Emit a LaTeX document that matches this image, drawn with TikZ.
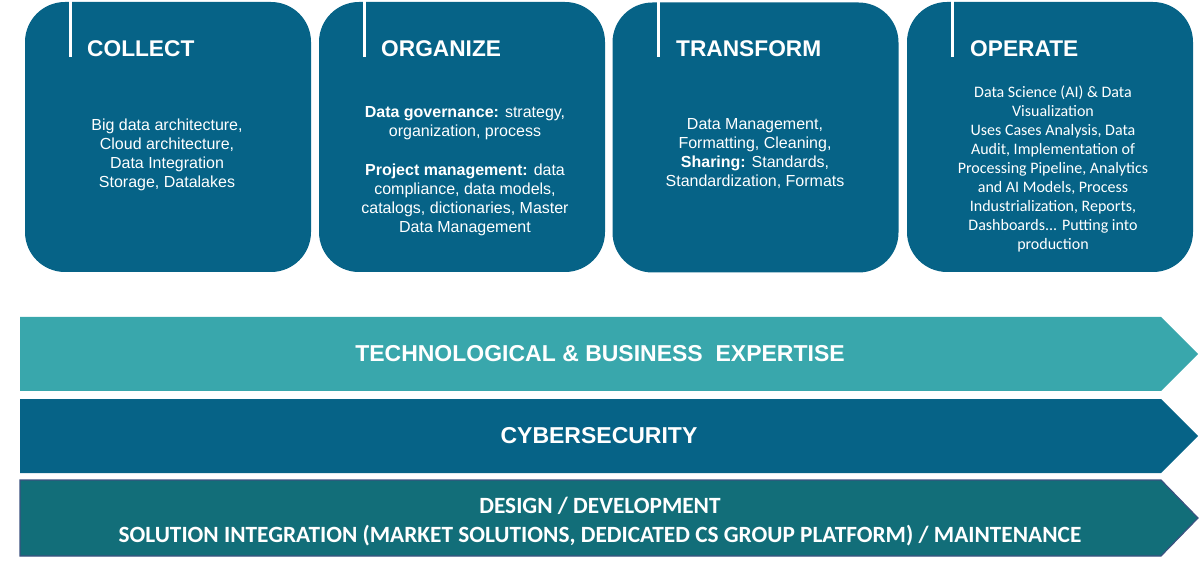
\documentclass[tikz,border=0pt]{standalone}
\usepackage{fontspec}
\setmainfont{Liberation Sans}
\newfontfamily\calfont{Carlito}
\usetikzlibrary{positioning}

\definecolor{phaseblue}{RGB}{6,99,135}
\definecolor{expertteal}{RGB}{57,167,172}
\definecolor{designteal}{RGB}{18,110,121}
\definecolor{designedge}{RGB}{58,82,128}

\begin{document}
\begin{tikzpicture}[x=1pt,y=-1pt,
  phase/.style={fill=phaseblue, rounded corners=40pt, inner sep=0pt,
    minimum width=286pt, minimum height=270pt},
  phasetitle/.style={text=white, anchor=base west, inner sep=0pt,
    font=\fontsize{22.7}{27}\selectfont\bfseries},
  phasetext/.style={text=white, align=center, inner sep=0pt,
    font=\fontsize{16}{19}\selectfont},
  bandtext/.style={text=white, align=center, inner sep=0pt}]
\useasboundingbox (0,0) rectangle (1200,561);

\def\ytop{0}
\def\ytick{57}

\node[phase] (collect) at (168,137) {};
\node[phase] (organize) at (462,137) {};
\node[phase] (transform) at (755.5,137.5) {};
\node[phase] (operate) at (1050,137) {};

\foreach \x in {70,364,658,952}
  \draw[white, line width=3pt] (\x,\ytop) -- (\x,\ytick);

\node[phasetitle] (collecttitle) at (87,\ytick) {COLLECT};
\node[phasetitle] (organizetitle) at (381,\ytick) {ORGANIZE};
\node[phasetitle] (transformtitle) at (676,\ytick) {TRANSFORM};
\node[phasetitle] (operatetitle) at (970,\ytick) {OPERATE};

\node[phasetext] (collecttext) at (167,155)
  {Big data architecture,\\Cloud architecture,\\Data Integration\\Storage, Datalakes};
\node[phasetext] (organizetext) at (465,171)
  {\textbf{Data governance:} strategy,\\organization, process\\[20pt]
   \textbf{Project management:} data\\compliance, data models,\\
   catalogs, dictionaries, Master\\Data Management};
\node[phasetext] (transformtext) at (755,154)
  {Data Management,\\Formatting, Cleaning,\\\textbf{Sharing:} Standards,\\
   Standardization, Formats};
\node[phasetext, font=\calfont\fontsize{16}{19.1}\selectfont] (operatetext) at (1053,169)
  {Data Science (AI) \& Data\\Visualization\\Uses Cases Analysis, Data\\
   Audit, Implementation of\\Processing Pipeline, Analytics\\and AI Models, Process\\
   Industrialization, Reports,\\Dashboards... Putting into\\production};

\fill[expertteal] (20,317) -- (1161,317) -- (1198,354) -- (1161,391) -- (20,391) -- cycle;
\fill[phaseblue] (20,399) -- (1161,399) -- (1198,436) -- (1161,473) -- (20,473) -- cycle;
\filldraw[fill=designteal, draw=designedge, line width=1.2pt]
  (20,480) -- (1161,480) -- (1198,518) -- (1161,556) -- (20,556) -- cycle;

\node[bandtext, font=\fontsize{23}{28}\selectfont\bfseries] (expertise) at (600,354)
  {TECHNOLOGICAL \& BUSINESS\ \ EXPERTISE};
\node[bandtext, font=\fontsize{23}{28}\selectfont\bfseries] (cyber) at (599,436)
  {CYBERSECURITY};
\node[bandtext, font=\calfont\fontsize{23.3}{29}\selectfont\bfseries] (design) at (600,522)
  {DESIGN / DEVELOPMENT\\
   SOLUTION INTEGRATION (MARKET SOLUTIONS, DEDICATED CS GROUP PLATFORM) / MAINTENANCE};

\end{tikzpicture}
\end{document}
